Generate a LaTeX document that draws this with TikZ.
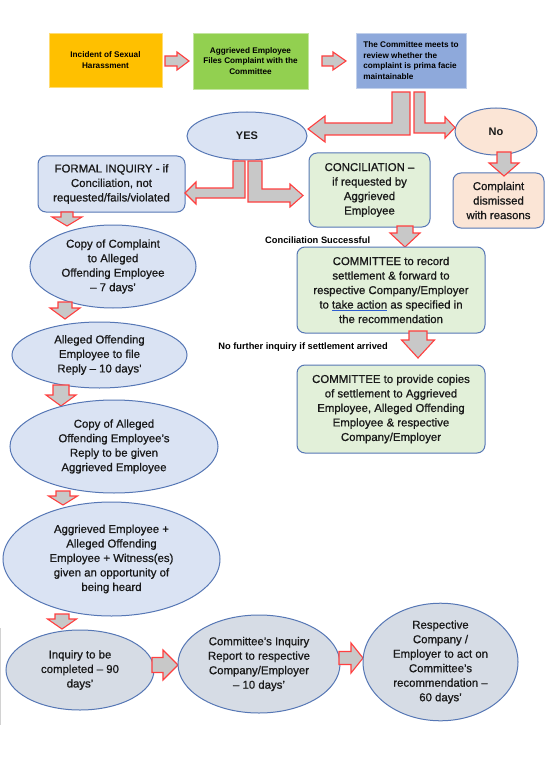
\documentclass[tikz,border=0pt]{standalone}
\usepackage{fontspec}
\setmainfont{Liberation Sans}
\newfontfamily\medfont{Liberation Sans}[FakeBold=0.8]
\usetikzlibrary{shapes.geometric}
\definecolor{cOrange}{HTML}{FFC000}
\definecolor{cGreen}{HTML}{92D050}
\definecolor{cBlue}{HTML}{8EA9DB}
\definecolor{cLBlue}{HTML}{DAE3F3}
\definecolor{cLGreen}{HTML}{E2F0D9}
\definecolor{cPeach}{HTML}{FBE5D6}
\definecolor{cGrayBlue}{HTML}{D6DCE5}
\definecolor{cBorder}{HTML}{5677B5}
\definecolor{cArrow}{HTML}{C8C8C8}
\definecolor{cRed}{HTML}{FF3F3F}
\definecolor{ulblue}{HTML}{2F5FD0}
\newsavebox\myulbox
\newcommand\blueul[1]{\sbox\myulbox{#1}\rlap{\textcolor{ulblue}{\rule[-0.45ex]{\wd\myulbox}{0.8pt}}}\usebox\myulbox}
\newcommand{\dnarrow}[6]{\draw[blockarr] ({#1-#4},#2) -- ({#1+#4},#2) -- ({#1+#4},{#3-#6}) -- ({#1+#5},{#3-#6}) -- (#1,#3) -- ({#1-#5},{#3-#6}) -- ({#1-#4},{#3-#6}) -- cycle;}
\newcommand{\rtarrow}[6]{\draw[blockarr] (#1,{#3-#4}) -- ({#2-#6},{#3-#4}) -- ({#2-#6},{#3-#5}) -- (#2,#3) -- ({#2-#6},{#3+#5}) -- ({#2-#6},{#3+#4}) -- (#1,{#3+#4}) -- cycle;}
\begin{document}
\begin{tikzpicture}[x=1pt,y=-1pt,
  txt/.style={font=\medfont\fontsize{11.4}{14.5}\selectfont, align=center, text=black!90},
  topbox/.style={rectangle, fill=#1, draw=#1!55!white, line width=0.6pt, inner sep=0pt,
    font=\bfseries\fontsize{8.2}{10.4}\selectfont, align=center},
  rbox/.style={rectangle, rounded corners=8pt, draw=cBorder, line width=1pt, inner sep=0pt, txt},
  ell/.style={ellipse, draw=cBorder, line width=1pt, inner sep=0pt, txt},
  blockarr/.style={fill=cArrow, draw=cRed, line width=1.1pt, line join=miter},
  lbl/.style={font=\bfseries\fontsize{9.3}{11}\selectfont, inner sep=0pt}]
\useasboundingbox (0,0) rectangle (549,762);
\fill[white] (0,0) rectangle (549,762);

% top row
\node[topbox=cOrange, minimum width=113, minimum height=54] (inc) at (105.5,60) {Incident of Sexual\\Harassment};
\node[topbox=cGreen, minimum width=115, minimum height=56] (grn) at (250.5,61) {Aggrieved Employee\\Files Complaint with the\\Committee};
\node[topbox=cBlue, minimum width=110, minimum height=55, align=left] (blu) at (411,60.5) {The Committee meets to\\review whether the\\complaint is prima facie\\maintainable};
\rtarrow{165}{189}{61}{5}{9}{12}
\rtarrow{322}{346}{61}{5}{9}{13}

% decision
\node[ell, fill=cLBlue, minimum width=120, minimum height=48, font=\bfseries\fontsize{11}{13}\selectfont] (yes) at (247,136) {YES};
\node[ell, fill=cPeach, minimum width=82, minimum height=47, font=\bfseries\fontsize{11}{13}\selectfont] (no) at (496,131.5) {No};
\draw[blockarr] (410,92) -- (410,135) -- (325,135) -- (325,142) -- (308,129) -- (325,116) -- (325,123) -- (392,123) -- (392,92) -- cycle;
\draw[blockarr] (414,92) -- (414,133) -- (445,133) -- (445,138) -- (455,127.5) -- (445,117) -- (445,123) -- (425,123) -- (425,92) -- cycle;

\node[rbox, fill=cPeach, minimum width=91, minimum height=55] (dism) at (498.5,200.5) {Complaint\\dismissed\\with reasons};
\dnarrow{504}{152}{176}{7}{15}{13}

% second row
\node[rbox, fill=cLBlue, minimum width=147, minimum height=56] (formal) at (111.5,184) {FORMAL INQUIRY - if\\Conciliation, not\\requested/fails/violated};
\node[rbox, fill=cLGreen, minimum width=121, minimum height=74] (concil) at (369.5,190) {CONCILIATION –\\if requested by\\Aggrieved\\Employee};
\draw[blockarr] (245,161) -- (245,198) -- (196,198) -- (196,204) -- (185,193) -- (196,182) -- (196,188) -- (233,188) -- (233,161) -- cycle;
\draw[blockarr] (248,161) -- (248,202) -- (290,202) -- (290,207) -- (303,195.5) -- (290,184) -- (290,189) -- (262,189) -- (262,161) -- cycle;

% conciliation branch
\dnarrow{405}{226}{247}{8}{15}{14}
\node[lbl, anchor=west] (lsucc) at (265,240) {Conciliation Successful};
\node[rbox, fill=cLGreen, minimum width=188, minimum height=86] (rec) at (391,290) {COMMITTEE to record\\settlement \& forward to\\respective Company/Employer\\to \blueul{take action} as specified in\\the recommendation};
\dnarrow{418}{331}{358}{9}{16.5}{18}
\node[lbl, anchor=east] (lnofur) at (388,347) {No further inquiry if settlement arrived};
\node[rbox, fill=cLGreen, minimum width=188, minimum height=88] (prov) at (391,409) {COMMITTEE to provide copies\\of settlement to Aggrieved\\Employee, Alleged Offending\\Employee \& respective\\Company/Employer};

% inquiry branch
\dnarrow{67}{212}{226}{6}{15}{9}
\node[ell, fill=cLBlue, minimum width=166, minimum height=83] (copy1) at (113,266.5) {Copy of Complaint\\to Alleged\\Offending Employee\\– 7 days’};
\dnarrow{65}{302}{319}{7}{15}{11}
\node[ell, fill=cLBlue, minimum width=175, minimum height=66] (alleg) at (99.5,355) {Alleged Offending\\Employee to file\\Reply – 10 days’};
\dnarrow{61}{385}{406}{8}{15}{11}
\node[ell, fill=cLBlue, minimum width=208, minimum height=93] (copy2) at (114,446.5) {Copy of Alleged\\Offending Employee’s\\Reply to be given\\Aggrieved Employee};
\dnarrow{63}{491}{505}{7}{14.5}{9}
\node[ell, fill=cLBlue, minimum width=217, minimum height=114] (aggr) at (111.5,559) {Aggrieved Employee +\\Alleged Offending\\Employee + Witness(es)\\given an opportunity of\\being heard};
\dnarrow{62}{614}{629}{7}{14.5}{10}

% bottom row
\node[ell, fill=cGrayBlue, minimum width=148, minimum height=80] (inq) at (80,670) {Inquiry to be\\completed – 90\\days’};
\rtarrow{152}{178}{665}{7.5}{15}{15}
\node[ell, fill=cGrayBlue, minimum width=162, minimum height=98] (cir) at (259,664) {Committee’s Inquiry\\Report to respective\\Company/Employer\\– 10 days’};
\rtarrow{339}{363}{658}{6.5}{15}{12}
\node[ell, fill=cGrayBlue, minimum width=155, minimum height=114] (resp) at (440.5,662) {Respective\\Company /\\Employer to act on\\Committee’s\\recommendation –\\60 days’};

\draw[gray!35, line width=0.8pt] (0.6,628) -- (0.6,725);
\end{tikzpicture}
\end{document}
